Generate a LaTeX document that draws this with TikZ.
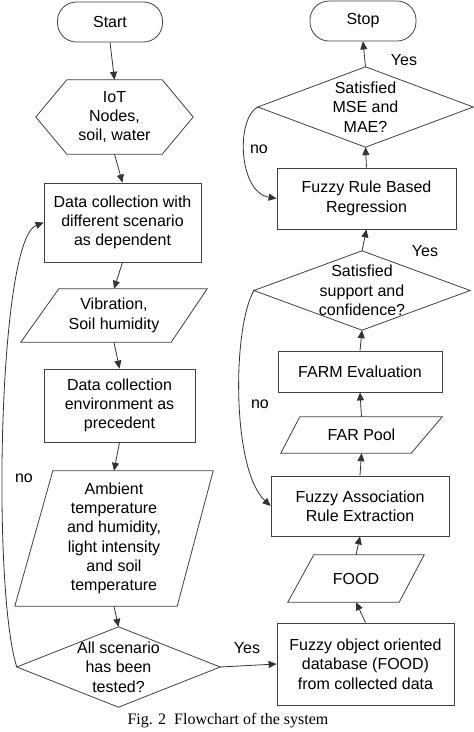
\documentclass[tikz,border=0pt]{standalone}
\usepackage{fontspec}
\setmainfont{Liberation Sans}
\newfontfamily\capfont{Liberation Serif}
\usetikzlibrary{arrows.meta,calc}
\newcommand\mfs{\fontsize{16}{19.3}\selectfont}
\tikzset{
  shp/.style={draw=black!75, line width=0.8pt},
  box/.style={rectangle, inner sep=0pt, align=center, font=\mfs},
  arr/.style={draw=black!80, line width=0.8pt, -{Triangle[length=8pt,width=7pt]}},
  lbl/.style={inner sep=0pt, font=\mfs},
}
\begin{document}
\begin{tikzpicture}[x=1pt,y=-1pt]
\useasboundingbox (0,0) rectangle (474,732);
% left column
\node[box, shp, rounded corners=19pt, minimum width=105pt, minimum height=40pt] (start) at (110,22) {Start};
\node[box, minimum width=157pt, minimum height=74pt] (iot) at (114.5,117) {IoT\\Nodes,\\soil, water};
\draw[shp] ($(iot.north west)+(31,0)$) -- ($(iot.north east)+(-31,0)$) -- (iot.east) -- ($(iot.south east)+(-31,0)$) -- ($(iot.south west)+(31,0)$) -- (iot.west) -- cycle;
\node[box, shp, minimum width=157pt, minimum height=79pt] (dc1) at (122.5,222.5) {Data collection with\\different scenario\\as dependent};
\node[box, minimum width=186pt, minimum height=53pt] (vib) at (114,315.5) {Vibration,\\Soil humidity};
\draw[shp] ($(vib.north west)+(38,0)$) -- (vib.north east) -- ($(vib.south east)+(-36,0)$) -- (vib.south west) -- cycle;
\node[box, shp, minimum width=151pt, minimum height=73pt] (dc2) at (119.5,405.5) {Data collection\\environment as\\precedent};
\node[box, minimum width=198pt, minimum height=135pt] (amb) at (114,538.5) {Ambient\\temperature\\and humidity,\\light intensity\\and soil\\temperature};
\draw[shp] ($(amb.north west)+(38,0)$) -- (amb.north east) -- ($(amb.south east)+(-36,0)$) -- (amb.south west) -- cycle;
\node[box, minimum width=203pt, minimum height=80pt] (d1) at (118.5,667) {All scenario\\has been\\tested?};
\draw[shp] (d1.north) -- (d1.east) -- (d1.south) -- (d1.west) -- cycle;
% right column
\node[box, shp, rounded corners=19pt, minimum width=106pt, minimum height=40pt] (stop) at (363,21) {Stop};
\node[box, minimum width=215pt, minimum height=80pt] (d2) at (365.5,107) {Satisfied\\MSE and\\MAE?};
\draw[shp] (d2.north) -- (d2.east) -- (d2.south) -- (d2.west) -- cycle;
\node[box, shp, minimum width=179pt, minimum height=61pt] (frbr) at (366.5,198.5) {Fuzzy Rule Based\\Regression};
\node[box, minimum width=216pt, minimum height=79pt] (d3) at (362,290.5) {Satisfied\\support and\\confidence?};
\draw[shp] (d3.north) -- (d3.east) -- (d3.south) -- (d3.west) -- cycle;
\node[box, shp, minimum width=164pt, minimum height=41pt] (farm) at (360,371.5) {FARM Evaluation};
\node[box, minimum width=161pt, minimum height=36pt] (far) at (361.5,435) {FAR Pool};
\draw[shp] ($(far.north west)+(19,0)$) -- (far.north east) -- ($(far.south east)+(-31,0)$) -- (far.south west) -- cycle;
\node[box, shp, minimum width=178pt, minimum height=60pt] (fae) at (360,506) {Fuzzy Association\\Rule Extraction};
\node[box, minimum width=136pt, minimum height=47pt] (food) at (356,578.5) {FOOD};
\draw[shp] ($(food.north west)+(26,0)$) -- (food.north east) -- ($(food.south east)+(-25,0)$) -- (food.south west) -- cycle;
\node[box, shp, minimum width=177pt, minimum height=82pt] (fdb) at (365.5,664) {Fuzzy object oriented\\database (FOOD)\\from collected data};
% connectors
\draw[arr] (start.south) -- (iot.north);
\draw[arr] (iot.south) -- (dc1.north);
\draw[arr] (dc1.south) -- (vib.north);
\draw[arr] (vib.south) -- (dc2.north);
\draw[arr] (dc2.south) -- (amb.north);
\draw[arr] (amb.south) -- (d1.north);
\draw[arr] (d1.east) -- (fdb.west);
\draw[arr] (fdb.north) -- (food.south);
\draw[arr] (food.north) -- (fae.south);
\draw[arr] (fae.north) -- (far.south);
\draw[arr] (far.north) -- (farm.south);
\draw[arr] (farm.north) -- (d3.south);
\draw[arr] (d3.north) -- (frbr.south);
\draw[arr] (frbr.north) -- (d2.south);
\draw[arr] (d2.north) -- (stop.south);
\draw[arr] (d1.west) .. controls (-8,590) and (-2,240) .. (dc1.west);
\draw[arr] (d2.west) .. controls (236,118) and (238,192) .. (frbr.west);
\draw[arr] (d3.west) .. controls (232,330) and (232,470) .. (fae.west);
% labels
\node[lbl] (yes1) at (404,60) {Yes};
\node[lbl] (yes2) at (425,251) {Yes};
\node[lbl] (yes3) at (247,648) {Yes};
\node[lbl] (no1) at (24,478) {no};
\node[lbl] (no2) at (259,149) {no};
\node[lbl] (no3) at (260,404) {no};
\node[inner sep=0pt, font=\capfont\fontsize{16}{19}\selectfont] (cap) at (228,721) {Fig. 2\ \ Flowchart of the system};
\end{tikzpicture}
\end{document}
